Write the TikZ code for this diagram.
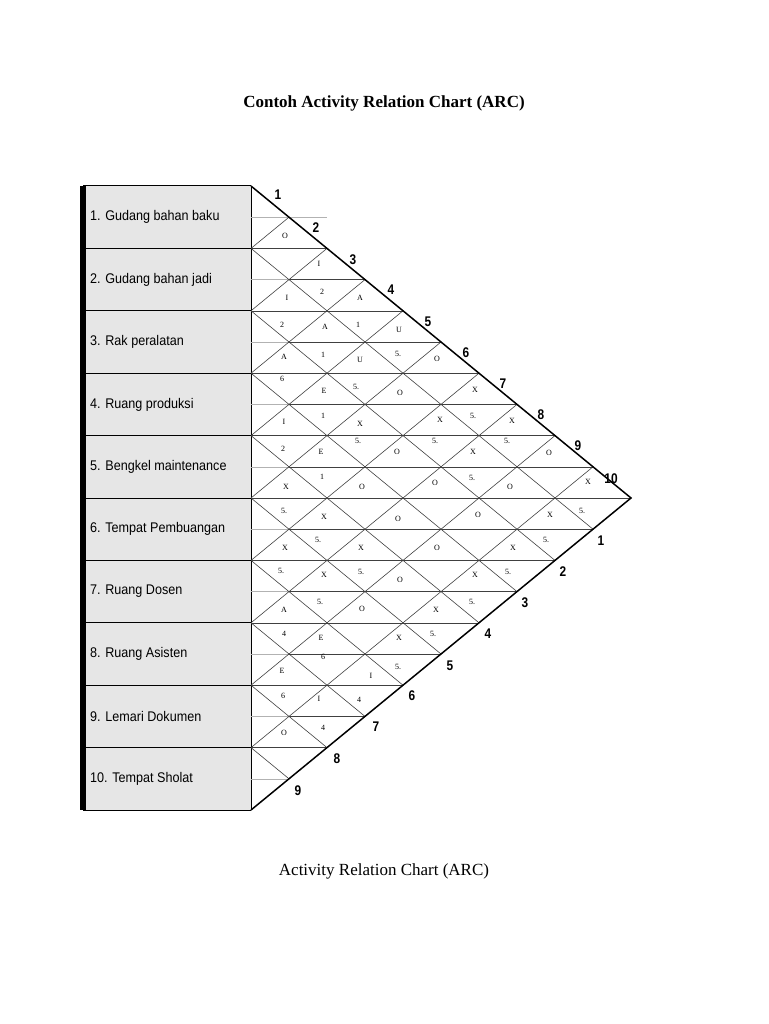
\documentclass[tikz,border=0pt]{standalone}
\usepackage{fontspec}
\setmainfont{Liberation Serif}
\newfontfamily\arcsans{Liberation Sans}
\usetikzlibrary{positioning}
\definecolor{boxgray}{RGB}{230,230,230}
\tikzset{
  cell/.style={font=\fontsize{8}{8}\selectfont\rmfamily,inner sep=0pt},
  edgenum/.style={font=\fontsize{14}{14}\selectfont\arcsans\bfseries,inner sep=0pt,xscale=0.85},
  dept/.style={font=\fontsize{14}{14}\selectfont\arcsans,anchor=west,inner sep=0pt,xscale=0.9},
  grid/.style={black!75,line width=0.6pt},
  halfline/.style={black!30,line width=0.6pt}
}
\begin{document}
\begin{tikzpicture}[x=1pt,y=-1pt]
  \useasboundingbox (0,0) rectangle (768,1024);

  \node[font=\fontsize{17}{17}\selectfont\bfseries] (title) at (384,103) {Contoh Activity Relation Chart (ARC)};
  \node[font=\fontsize{17}{17}\selectfont] (caption) at (384,871) {Activity Relation Chart (ARC)};

  % department boxes
  \fill[boxgray] (83,186) rectangle (251,810);
  \foreach \k in {0,...,10}
    \draw[line width=1pt] (83,186+62.4*\k) -- (251,186+62.4*\k);
  \draw[line width=1pt] (251,186) -- (251,810);
  \fill[black] (80,186) rectangle (86,810);

  \foreach \t [count=\i] in {1. Gudang bahan baku,2. Gudang bahan jadi,3. Rak peralatan,
      4. Ruang produksi,5. Bengkel maintenance,6. Tempat Pembuangan,7. Ruang Dosen,
      8. Ruang Asisten,9. Lemari Dokumen,10. Tempat Sholat}
    \node[dept] (d\i) at (90,186+62.4*\i-31.2) {\t};

  % horizontal lines
  \foreach \m in {1,...,19}{
    \pgfmathtruncatemacro{\n}{min(\m,20-\m)}
    \pgfmathsetmacro{\ex}{251+38*\n}
    \ifodd\m
      \draw[halfline] (251,186+31.2*\m) -- (289,186+31.2*\m);
      \ifnum\m>1 \draw[grid] (289,186+31.2*\m) -- (\ex,186+31.2*\m); \fi
    \else
      \draw[grid] (251,186+31.2*\m) -- (\ex,186+31.2*\m);
    \fi
  }
  \draw[halfline] (289,217) -- (327,217);

  % diagonals
  \foreach \k in {1,...,9}{
    \draw[grid] (251,186+62.4*\k) -- ++(38*\k,-31.2*\k);
    \draw[grid] (251,186+62.4*\k) -- ++(38*10-38*\k,312-31.2*\k);
  }

  % outline
  \draw[line width=1.5pt] (251,186) -- (631,498) -- (251,810);

  % edge numbers
  \foreach \t/\x/\y [count=\i] in {1/278/195,2/316/228,3/353/260,4/391/290,5/428/322,
      6/466/353,7/503/384,8/541/415,9/578/446,10/611/479}
    \node[edgenum] (u\i) at (\x,\y) {\t};
  \foreach \t/\x/\y [count=\i] in {1/601/541,2/563/572,3/525/603,4/488/634,5/450/666,
      6/412/696,7/376/727,8/337/759,9/298/791}
    \node[edgenum] (l\i) at (\x,\y) {\t};

  % relation codes
  \foreach \t/\x/\y [count=\i] in {O/285/236,I/319/264,I/287/298,2/322/292,A/360/298,
      2/282/325,A/325/327,1/358/325,U/399/330,A/284/357,1/323/355,U/360/360,5./398/354,O/437/359,
      6/282/379,E/324/391,5./356/387,O/400/393,X/475/390,
      I/284/422,1/323/416,X/360/424,X/440/420,5./473/416,X/512/421,
      2/283/449,E/321/452,5./358/441,O/397/452,5./435/441,X/473/452,5./507/441,O/549/453,
      X/286/487,1/322/477,O/362/487,O/435/483,5./472/478,O/510/487,X/588/482,
      5./284/511,X/324/517,O/398/519,O/478/515,X/550/515,5./582/511,
      X/285/548,5./318/540,X/361/548,O/437/548,X/513/548,5./546/540,
      5./281/571,X/324/575,5./361/572,O/400/580,X/475/575,5./508/572,
      A/284/610,5./320/602,O/362/609,X/436/610,5./472/602,
      4/284/634,E/321/638,X/399/638,5./433/634,
      E/282/671,6/323/657,I/371/676,5./398/667,
      6/283/696,I/319/699,4/359/700,O/284/733,4/323/728}
    \node[cell] (c\i) at (\x,\y) {\t};
\end{tikzpicture}
\end{document}
